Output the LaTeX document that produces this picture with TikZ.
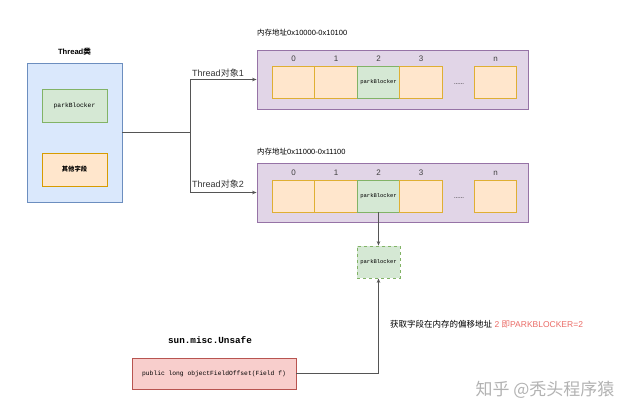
\documentclass[tikz,border=0pt]{standalone}
\usepackage{fontspec}
\setmainfont{Liberation Sans}
\setmonofont{Liberation Mono}
\newfontfamily\cjk{Noto Sans CJK SC}
\usetikzlibrary{arrows.meta}
\definecolor{bluef}{HTML}{DAE8FC}\definecolor{blued}{HTML}{6C8EBF}
\definecolor{greenf}{HTML}{D5E8D4}\definecolor{greend}{HTML}{82B366}
\definecolor{orangef}{HTML}{FFE6CC}\definecolor{oranged}{HTML}{D79B00}
\definecolor{purplef}{HTML}{E1D5E7}\definecolor{purpled}{HTML}{9673A6}
\definecolor{pinkf}{HTML}{F8CECC}\definecolor{pinkd}{HTML}{B85450}
\definecolor{redtxt}{HTML}{EA6B66}
\definecolor{linec}{HTML}{555555}
\tikzset{
  box/.style={draw, line width=0.8pt, inner sep=0pt, minimum width=#1},
  bluebox/.style={box=95pt, fill=bluef, draw=blued, minimum height=139pt},
  greenbox/.style={box=65pt, fill=greenf, draw=greend, minimum height=33pt},
  orangebox/.style={box=65pt, fill=orangef, draw=oranged, minimum height=33pt},
  membox/.style={box=271pt, fill=purplef, draw=purpled, minimum height=59pt},
  cell/.style={box=42.5pt, fill=orangef, draw=oranged!80, minimum height=32pt},
  pcell/.style={box=42.5pt, fill=greenf, draw=greend, minimum height=32pt, font=\ttfamily\fontsize{5.5}{6}\selectfont},
  idx/.style={font=\fontsize{8}{9}\selectfont, text=black!75, inner sep=0pt},
  lbl/.style={font=\fontsize{9}{10}\selectfont, text=black!80, inner sep=1pt},
  ttl/.style={font=\fontsize{7.5}{8}\selectfont, inner sep=0pt, anchor=west},
  conn/.style={draw=linec, line width=0.7pt},
  arr/.style={conn, -{Stealth[length=4.5pt,width=3.5pt]}},
}
\begin{document}
\begin{tikzpicture}[x=1pt,y=-1pt]
\useasboundingbox (0,0) rectangle (640,417);
% Thread class
\node[font=\bfseries\fontsize{7.6}{8}\selectfont] (tt) at (74.5,52) {Thread{\cjk\bfseries 类}};
\node[bluebox] (thread) at (74.5,132.5) {};
\node[greenbox, font=\ttfamily\fontsize{6.3}{7}\selectfont] (pb) at (74.5,105.5) {parkBlocker};
\node[orangebox, font=\cjk\bfseries\fontsize{6.3}{7}\selectfont] (other) at (74.5,169.5) {其他字段};

% memory 1
\node[ttl] (t1) at (257,33) {{\cjk 内存地址}0x10000-0x10100};
\node[membox] (mem1) at (392.5,79.5) {};
\node[cell] (a0) at (293.5,82) {};
\node[cell] (a1) at (336,82) {};
\node[pcell] (a2) at (378.5,82) {parkBlocker};
\node[cell] (a3) at (421,82) {};
\node[cell] (an) at (495.5,82) {};
\node[idx] (l0) at (293.5,59) {0};
\node[idx] (l1) at (336,59) {1};
\node[idx] (l2) at (378.5,59) {2};
\node[idx] (l3) at (421,59) {3};
\node[idx] (ln) at (495.5,59) {n};
\node[font=\fontsize{6}{6}\selectfont, inner sep=0pt] (d1) at (459,84) {......};

% memory 2
\node[ttl] (t2) at (257,152) {{\cjk 内存地址}0x11000-0x11100};
\node[membox] (mem2) at (392.5,192.5) {};
\node[cell] (b0) at (293.5,196) {};
\node[cell] (b1) at (336,196) {};
\node[pcell] (b2) at (378.5,196) {parkBlocker};
\node[cell] (b3) at (421,196) {};
\node[cell] (bn) at (495.5,196) {};
\node[idx] (m0) at (293.5,173) {0};
\node[idx] (m1) at (336,173) {1};
\node[idx] (m2) at (378.5,173) {2};
\node[idx] (m3) at (421,173) {3};
\node[idx] (mn) at (495.5,173) {n};
\node[font=\fontsize{6}{6}\selectfont, inner sep=0pt] (d2) at (459,198) {......};

% connectors from Thread
\coordinate (j) at (190,132.5);
\draw[conn] (thread.east) -- (j);
\draw[arr] (j) |- (mem1.west);
\draw[arr] (j) |- (mem2.west);
\node[lbl] (o1) at (218,73) {Thread{\cjk 对象}1};
\node[lbl] (o2) at (218,184) {Thread{\cjk 对象}2};

% offset box
\node[box=43pt, minimum height=32pt, fill=greenf, draw=greend, dashed, font=\ttfamily\fontsize{5.5}{6}\selectfont] (pbd) at (378.5,262) {parkBlocker};
\draw[arr] (b2.south) -- (pbd.north);

% Unsafe
\node[font=\ttfamily\bfseries\fontsize{9.3}{10}\selectfont] (un) at (210,340) {sun.misc.Unsafe};
\node[box=164pt, minimum height=31pt, fill=pinkf, draw=pinkd, font=\ttfamily\fontsize{6.3}{7}\selectfont] (ofs) at (214,373.5) {public long objectFieldOffset(Field f)};
\draw[arr] (ofs.east) -| (pbd.south);
\node[anchor=west, inner sep=0pt, font=\fontsize{8.5}{9}\selectfont] (exp) at (390,324) {{\cjk 获取字段在内存的偏移地址} \textcolor{redtxt}{2 {\cjk 即}PARKBLOCKER=2}};

% watermark
\node[font=\cjk\fontsize{17}{18}\selectfont, text=black!30] (wm) at (545,390) {知乎 @秃头程序猿};
\end{tikzpicture}
\end{document}
